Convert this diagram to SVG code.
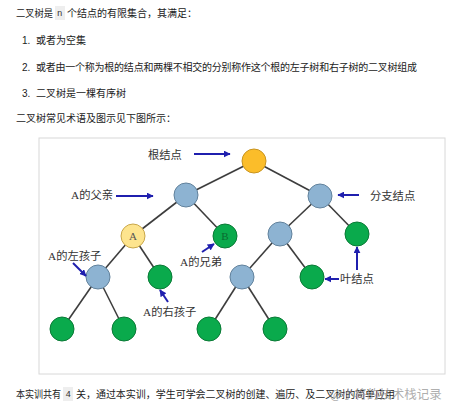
<svg xmlns="http://www.w3.org/2000/svg" width="474" height="408" viewBox="0 0 474 408">
<style>
.t{font-family:"Noto Sans CJK SC","Liberation Sans",sans-serif;font-size:10px;fill:#222}
.n{font-family:"Liberation Sans",sans-serif;font-size:10px;fill:#222}
.code{font-family:"Liberation Mono",monospace;font-size:9px;fill:#333}
.lb{font-family:"Liberation Serif","Noto Sans CJK SC",serif;font-size:11.3px;fill:#333}
.e{stroke:#3d3d3d;stroke-width:1.6;fill:none}
.ar{stroke:#1f1fae;stroke-width:2;fill:none;marker-end:url(#ah)}
.blue{fill:#8db3d2;stroke:#62829c;stroke-width:1}
.green{fill:#0aaa4c;stroke:#0a7a36;stroke-width:1}
.gold{fill:#fbbd2a;stroke:#c89420;stroke-width:1}
.ya{fill:#fde48e;stroke:#c9a74a;stroke-width:1}
</style>
<defs>
<marker id="ah" viewBox="0 0 10 10" refX="9" refY="5" markerWidth="3.5" markerHeight="3.5" orient="auto" markerUnits="strokeWidth">
<path d="M0,0 L10,5 L0,10 z" fill="#1f1fae"/>
</marker>
</defs>
<rect width="474" height="408" fill="#fff"/>

<g id="intro">
<text class="t" x="16" y="17" textLength="37" lengthAdjust="spacingAndGlyphs">二叉树是</text>
<rect x="55" y="6" width="10" height="14" fill="#eeeeee"/>
<text class="code" x="57" y="16">n</text>
<text class="t" x="67" y="17">个结点的有限集合，其满足：</text>
<text class="n" x="22" y="44">1.</text>
<text class="t" x="36" y="44">或者为空集</text>
<text class="n" x="22" y="71">2.</text>
<text class="t" x="36" y="71" textLength="381" lengthAdjust="spacing">或者由一个称为根的结点和两棵不相交的分别称作这个根的左子树和右子树的二叉树组成</text>
<text class="n" x="22" y="97">3.</text>
<text class="t" x="36" y="97">二叉树是一棵有序树</text>
<text class="t" x="16" y="122">二叉树常见术语及图示见下图所示：</text>
</g>

<rect id="frame" x="39" y="138" width="406" height="236" fill="#fff" stroke="#d8d8d8" stroke-width="1"/>

<g id="connectors">
<line class="e" x1="254" y1="161" x2="186" y2="195"/>
<line class="e" x1="254" y1="161" x2="320" y2="196"/>
<line class="e" x1="186" y1="195" x2="133" y2="236"/>
<line class="e" x1="186" y1="195" x2="225" y2="236"/>
<line class="e" x1="320" y1="196" x2="280" y2="234"/>
<line class="e" x1="320" y1="196" x2="357" y2="234"/>
<line class="e" x1="133" y1="236" x2="98" y2="277"/>
<line class="e" x1="133" y1="236" x2="160" y2="277"/>
<line class="e" x1="280" y1="234" x2="242" y2="277"/>
<line class="e" x1="280" y1="234" x2="312" y2="277"/>
<line class="e" x1="98" y1="277" x2="62" y2="329"/>
<line class="e" x1="98" y1="277" x2="124" y2="329"/>
<line class="e" x1="242" y1="277" x2="209" y2="329"/>
<line class="e" x1="242" y1="277" x2="275" y2="329"/>
</g>

<g id="root"><circle class="gold" cx="254" cy="161" r="12"/></g>
<g id="parentA"><circle class="blue" cx="186" cy="195" r="12"/></g>
<g id="branch"><circle class="blue" cx="320" cy="196" r="12"/></g>
<g id="nodeA"><circle class="ya" cx="133" cy="236" r="12"/><text x="133" y="240" text-anchor="middle" font-family="Liberation Serif,serif" font-size="11" fill="#555">A</text></g>
<g id="nodeB"><circle class="green" cx="225" cy="236" r="12"/><text x="225" y="240" text-anchor="middle" font-family="Liberation Serif,serif" font-size="11" fill="#0a6a30">B</text></g>
<g id="rb"><circle class="blue" cx="280" cy="234" r="12"/></g>
<g id="rg"><circle class="green" cx="357" cy="234" r="12"/></g>
<g id="al"><circle class="blue" cx="98" cy="277" r="12"/></g>
<g id="ar"><circle class="green" cx="160" cy="277" r="12"/></g>
<g id="rbl"><circle class="blue" cx="242" cy="277" r="12"/></g>
<g id="rbr"><circle class="green" cx="312" cy="277" r="12"/></g>
<g id="l1"><circle class="green" cx="62" cy="329" r="12"/></g>
<g id="l2"><circle class="green" cx="124" cy="329" r="12"/></g>
<g id="l3"><circle class="green" cx="209" cy="329" r="12"/></g>
<g id="l4"><circle class="green" cx="275" cy="329" r="12"/></g>

<g id="labels">
<text class="lb" x="148" y="159">根结点</text>
<line class="ar" x1="194" y1="154" x2="230" y2="154"/>
<text class="lb" x="71" y="199">A的父亲</text>
<line class="ar" x1="116" y1="196" x2="153" y2="196"/>
<text class="lb" x="370" y="200">分支结点</text>
<line class="ar" x1="359" y1="195" x2="338" y2="195"/>
<text class="lb" x="48" y="260">A的左孩子</text>
<line class="ar" x1="73" y1="263" x2="86" y2="276"/>
<text class="lb" x="180" y="266">A的兄弟</text>
<line class="ar" x1="202" y1="252" x2="214" y2="244"/>
<text class="lb" x="143" y="316">A的右孩子</text>
<line class="ar" x1="168" y1="302" x2="160" y2="290"/>
<text class="lb" x="340" y="283">叶结点</text>
<line class="ar" x1="339" y1="279" x2="325" y2="279"/>
<line class="ar" x1="357" y1="270" x2="357" y2="247"/>
</g>

<g id="outro">
<text class="t" x="16" y="398" textLength="45" lengthAdjust="spacingAndGlyphs">本实训共有</text>
<rect x="63" y="387" width="10" height="14" fill="#eeeeee"/>
<text class="code" x="65.5" y="397">4</text>
<text class="t" x="76" y="398" textLength="319" lengthAdjust="spacing">关，通过本实训，学生可学会二叉树的创建、遍历、及二叉树的简单应用</text>
<text x="330" y="399" font-family="Noto Sans CJK SC,sans-serif" font-size="12.5" fill="#999" fill-opacity="0.8">@小将的技术栈记录</text>
</g>
</svg>
